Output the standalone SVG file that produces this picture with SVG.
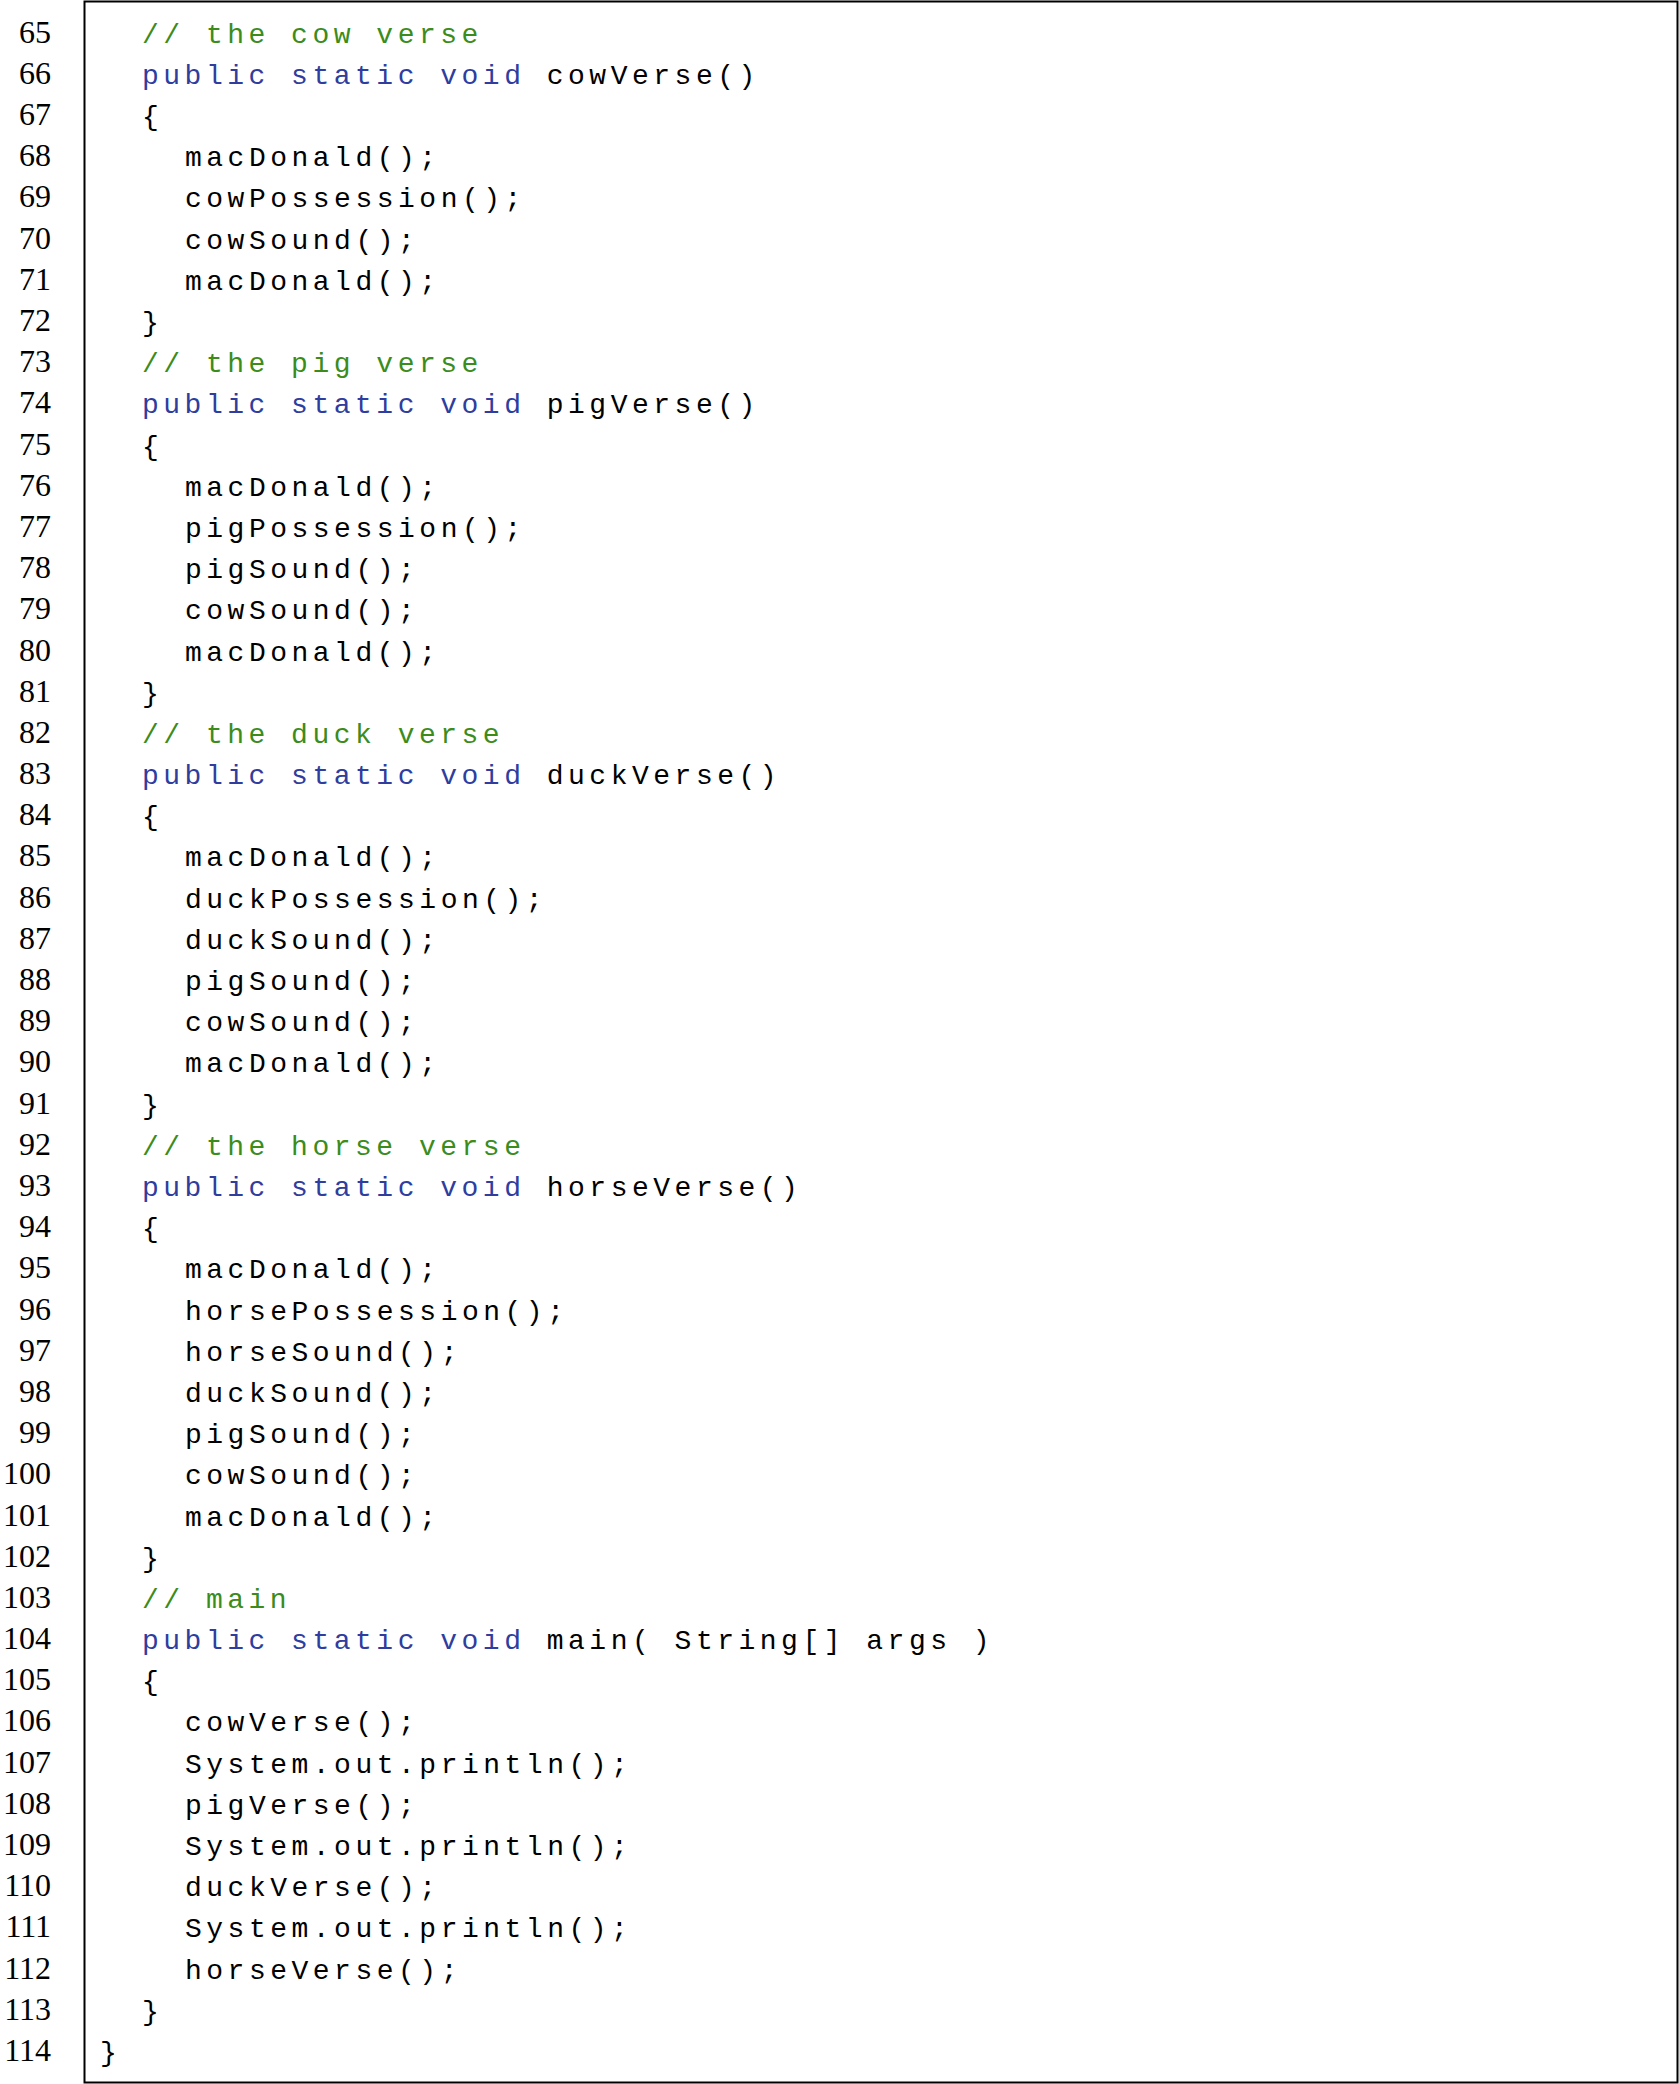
<svg xmlns="http://www.w3.org/2000/svg" width="1679" height="2084" viewBox="0 0 1679 2084">
<style>
.n{font-family:"Liberation Serif",serif;font-size:32px;fill:#000;text-anchor:end}
.c{font-family:"Liberation Mono",monospace;font-size:28px;letter-spacing:4.5px;fill:#000;white-space:pre}
.g{fill:#3b8c1b}.b{fill:#2e3d9e}
</style>
<rect x="0" y="0" width="1679" height="2084" fill="#fff"/>
<rect id="box" x="84.5" y="1.5" width="1593" height="2081" fill="none" stroke="#000" stroke-width="2"/>
<g id="nums">
<text class="n" x="51" y="42.6">65</text><text class="n" x="51" y="83.8">66</text><text class="n" x="51" y="125">67</text><text class="n" x="51" y="166.2">68</text><text class="n" x="51" y="207.4">69</text><text class="n" x="51" y="248.6">70</text><text class="n" x="51" y="289.7">71</text><text class="n" x="51" y="330.9">72</text><text class="n" x="51" y="372.1">73</text><text class="n" x="51" y="413.3">74</text><text class="n" x="51" y="454.5">75</text><text class="n" x="51" y="495.7">76</text><text class="n" x="51" y="536.9">77</text><text class="n" x="51" y="578.1">78</text><text class="n" x="51" y="619.3">79</text><text class="n" x="51" y="660.5">80</text><text class="n" x="51" y="701.7">81</text><text class="n" x="51" y="742.8">82</text><text class="n" x="51" y="784">83</text><text class="n" x="51" y="825.2">84</text><text class="n" x="51" y="866.4">85</text><text class="n" x="51" y="907.6">86</text><text class="n" x="51" y="948.8">87</text><text class="n" x="51" y="990">88</text><text class="n" x="51" y="1031.2">89</text><text class="n" x="51" y="1072.4">90</text><text class="n" x="51" y="1113.6">91</text><text class="n" x="51" y="1154.8">92</text><text class="n" x="51" y="1195.9">93</text><text class="n" x="51" y="1237.1">94</text><text class="n" x="51" y="1278.3">95</text><text class="n" x="51" y="1319.5">96</text><text class="n" x="51" y="1360.7">97</text><text class="n" x="51" y="1401.9">98</text><text class="n" x="51" y="1443.1">99</text><text class="n" x="51" y="1484.3">100</text><text class="n" x="51" y="1525.5">101</text><text class="n" x="51" y="1566.7">102</text><text class="n" x="51" y="1607.9">103</text><text class="n" x="51" y="1649">104</text><text class="n" x="51" y="1690.2">105</text><text class="n" x="51" y="1731.4">106</text><text class="n" x="51" y="1772.6">107</text><text class="n" x="51" y="1813.8">108</text><text class="n" x="51" y="1855">109</text><text class="n" x="51" y="1896.2">110</text><text class="n" x="51" y="1937.4">111</text><text class="n" x="51" y="1978.6">112</text><text class="n" x="51" y="2019.8">113</text><text class="n" x="51" y="2061">114</text>
</g>
<g id="code">
<text class="c g" x="142" y="42.6">// the cow verse</text>
<text class="c" x="142" y="83.8"><tspan class="b">public static void</tspan> cowVerse()</text>
<text class="c" x="142" y="125">{</text>
<text class="c" x="185" y="166.2">macDonald();</text>
<text class="c" x="185" y="207.4">cowPossession();</text>
<text class="c" x="185" y="248.6">cowSound();</text>
<text class="c" x="185" y="289.7">macDonald();</text>
<text class="c" x="142" y="330.9">}</text>
<text class="c g" x="142" y="372.1">// the pig verse</text>
<text class="c" x="142" y="413.3"><tspan class="b">public static void</tspan> pigVerse()</text>
<text class="c" x="142" y="454.5">{</text>
<text class="c" x="185" y="495.7">macDonald();</text>
<text class="c" x="185" y="536.9">pigPossession();</text>
<text class="c" x="185" y="578.1">pigSound();</text>
<text class="c" x="185" y="619.3">cowSound();</text>
<text class="c" x="185" y="660.5">macDonald();</text>
<text class="c" x="142" y="701.7">}</text>
<text class="c g" x="142" y="742.8">// the duck verse</text>
<text class="c" x="142" y="784"><tspan class="b">public static void</tspan> duckVerse()</text>
<text class="c" x="142" y="825.2">{</text>
<text class="c" x="185" y="866.4">macDonald();</text>
<text class="c" x="185" y="907.6">duckPossession();</text>
<text class="c" x="185" y="948.8">duckSound();</text>
<text class="c" x="185" y="990">pigSound();</text>
<text class="c" x="185" y="1031.2">cowSound();</text>
<text class="c" x="185" y="1072.4">macDonald();</text>
<text class="c" x="142" y="1113.6">}</text>
<text class="c g" x="142" y="1154.8">// the horse verse</text>
<text class="c" x="142" y="1195.9"><tspan class="b">public static void</tspan> horseVerse()</text>
<text class="c" x="142" y="1237.1">{</text>
<text class="c" x="185" y="1278.3">macDonald();</text>
<text class="c" x="185" y="1319.5">horsePossession();</text>
<text class="c" x="185" y="1360.7">horseSound();</text>
<text class="c" x="185" y="1401.9">duckSound();</text>
<text class="c" x="185" y="1443.1">pigSound();</text>
<text class="c" x="185" y="1484.3">cowSound();</text>
<text class="c" x="185" y="1525.5">macDonald();</text>
<text class="c" x="142" y="1566.7">}</text>
<text class="c g" x="142" y="1607.9">// main</text>
<text class="c" x="142" y="1649"><tspan class="b">public static void</tspan> main( String[] args )</text>
<text class="c" x="142" y="1690.2">{</text>
<text class="c" x="185" y="1731.4">cowVerse();</text>
<text class="c" x="185" y="1772.6">System.out.println();</text>
<text class="c" x="185" y="1813.8">pigVerse();</text>
<text class="c" x="185" y="1855">System.out.println();</text>
<text class="c" x="185" y="1896.2">duckVerse();</text>
<text class="c" x="185" y="1937.4">System.out.println();</text>
<text class="c" x="185" y="1978.6">horseVerse();</text>
<text class="c" x="142" y="2019.8">}</text>
<text class="c" x="100" y="2061">}</text>
</g>
</svg>
